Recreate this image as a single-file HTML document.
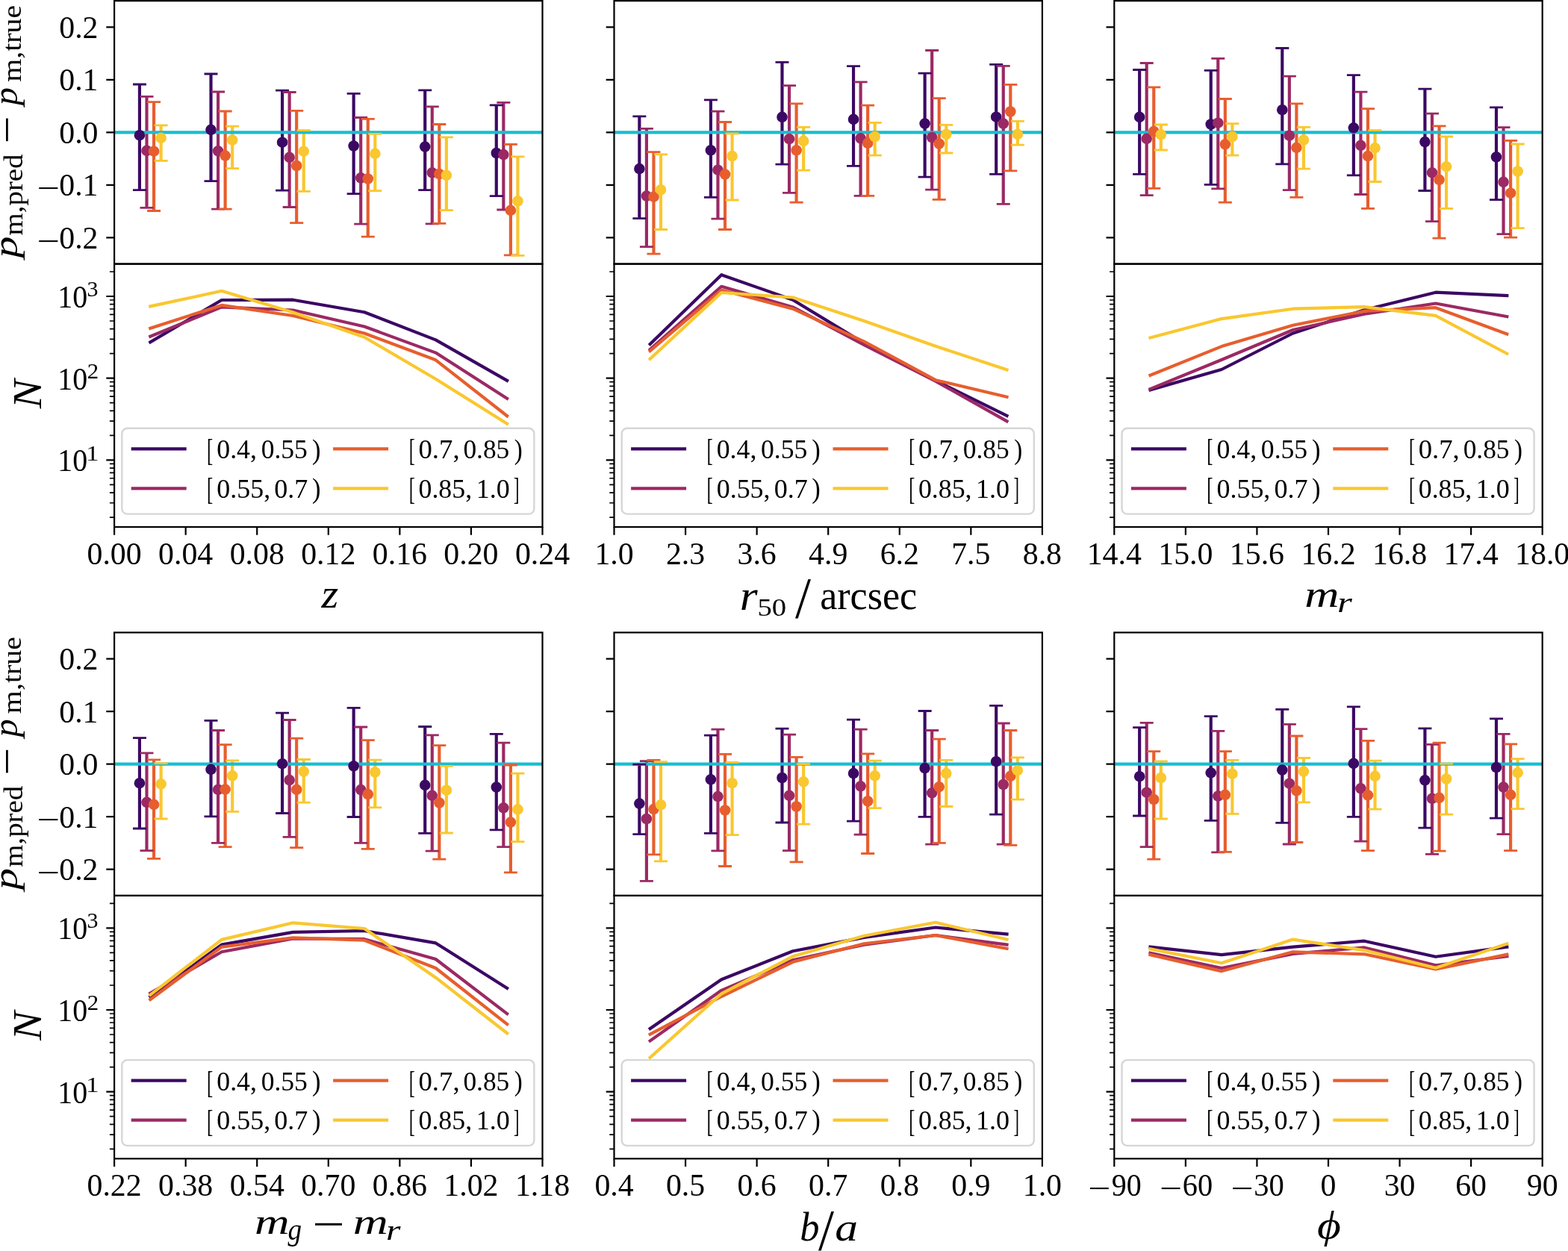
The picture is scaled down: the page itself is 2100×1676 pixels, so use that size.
<!DOCTYPE html><html><head><meta charset="utf-8"><title>figure</title><style>html,body{margin:0;padding:0;background:#fff;}svg{display:block;}</style></head><body><svg width="2100" height="1676" viewBox="0 0 2100 1676">
<rect x="0" y="0" width="2100" height="1676" fill="#ffffff"/>
<g font-family="'Liberation Serif', 'DejaVu Serif', serif" fill="#000">
<g>
<clipPath id="cp00t"><rect x="153.10" y="1.10" width="573.40" height="352.50"/></clipPath>
<g clip-path="url(#cp00t)">
<path d="M186.95 113.00V254.60M282.51 99.00V242.60M378.08 121.20V255.10M473.65 125.30V259.60M569.21 120.90V254.60M664.78 140.90V262.60" stroke="#3b0964" stroke-width="4.17" fill="none"/>
<path d="M196.50 129.40V278.40M292.07 123.00V280.20M387.64 123.50V277.50M483.21 157.50V300.20M578.77 142.90V299.80M674.34 137.30V281.00" stroke="#9b2964" stroke-width="4.17" fill="none"/>
<path d="M206.06 136.60V282.50M301.63 149.00V280.20M397.20 148.40V298.60M492.76 159.30V317.20M588.33 166.50V299.30M683.89 193.30V341.90" stroke="#e75e2e" stroke-width="4.17" fill="none"/>
<path d="M215.62 167.90V215.40M311.19 169.20V225.60M406.75 174.70V256.30M502.32 179.40V255.60M597.88 183.90V281.60M693.45 209.80V342.30" stroke="#f9c72f" stroke-width="4.17" fill="none"/>
<path d="M153.10 177.30H726.50" stroke="#17becf" stroke-width="4.17" fill="none"/>
<path d="M177.95 113.00H195.95M177.95 254.60H195.95M273.51 99.00H291.51M273.51 242.60H291.51M369.08 121.20H387.08M369.08 255.10H387.08M464.65 125.30H482.65M464.65 259.60H482.65M560.21 120.90H578.21M560.21 254.60H578.21M655.78 140.90H673.78M655.78 262.60H673.78" stroke="#3b0964" stroke-width="2.78" fill="none"/>
<path d="M187.50 129.40H205.50M187.50 278.40H205.50M283.07 123.00H301.07M283.07 280.20H301.07M378.64 123.50H396.64M378.64 277.50H396.64M474.21 157.50H492.21M474.21 300.20H492.21M569.77 142.90H587.77M569.77 299.80H587.77M665.34 137.30H683.34M665.34 281.00H683.34" stroke="#9b2964" stroke-width="2.78" fill="none"/>
<path d="M197.06 136.60H215.06M197.06 282.50H215.06M292.63 149.00H310.63M292.63 280.20H310.63M388.20 148.40H406.20M388.20 298.60H406.20M483.76 159.30H501.76M483.76 317.20H501.76M579.33 166.50H597.33M579.33 299.30H597.33M674.89 193.30H692.89M674.89 341.90H692.89" stroke="#e75e2e" stroke-width="2.78" fill="none"/>
<path d="M206.62 167.90H224.62M206.62 215.40H224.62M302.19 169.20H320.19M302.19 225.60H320.19M397.75 174.70H415.75M397.75 256.30H415.75M493.32 179.40H511.32M493.32 255.60H511.32M588.88 183.90H606.88M588.88 281.60H606.88M684.45 209.80H702.45M684.45 342.30H702.45" stroke="#f9c72f" stroke-width="2.78" fill="none"/>
<circle cx="186.95" cy="181.20" r="7.3" fill="#3b0964"/>
<circle cx="282.51" cy="173.80" r="7.3" fill="#3b0964"/>
<circle cx="378.08" cy="190.70" r="7.3" fill="#3b0964"/>
<circle cx="473.65" cy="195.50" r="7.3" fill="#3b0964"/>
<circle cx="569.21" cy="196.60" r="7.3" fill="#3b0964"/>
<circle cx="664.78" cy="205.00" r="7.3" fill="#3b0964"/>
<circle cx="196.50" cy="201.90" r="7.3" fill="#9b2964"/>
<circle cx="292.07" cy="202.30" r="7.3" fill="#9b2964"/>
<circle cx="387.64" cy="210.90" r="7.3" fill="#9b2964"/>
<circle cx="483.21" cy="238.40" r="7.3" fill="#9b2964"/>
<circle cx="578.77" cy="231.30" r="7.3" fill="#9b2964"/>
<circle cx="674.34" cy="207.10" r="7.3" fill="#9b2964"/>
<circle cx="206.06" cy="202.70" r="7.3" fill="#e75e2e"/>
<circle cx="301.63" cy="208.60" r="7.3" fill="#e75e2e"/>
<circle cx="397.20" cy="222.00" r="7.3" fill="#e75e2e"/>
<circle cx="492.76" cy="239.50" r="7.3" fill="#e75e2e"/>
<circle cx="588.33" cy="233.10" r="7.3" fill="#e75e2e"/>
<circle cx="683.89" cy="281.90" r="7.3" fill="#e75e2e"/>
<circle cx="215.62" cy="184.80" r="7.3" fill="#f9c72f"/>
<circle cx="311.19" cy="187.60" r="7.3" fill="#f9c72f"/>
<circle cx="406.75" cy="202.70" r="7.3" fill="#f9c72f"/>
<circle cx="502.32" cy="205.90" r="7.3" fill="#f9c72f"/>
<circle cx="597.88" cy="234.90" r="7.3" fill="#f9c72f"/>
<circle cx="693.45" cy="269.40" r="7.3" fill="#f9c72f"/>
</g>
<path d="M142.30 36.30H153.10M142.30 106.80H153.10M142.30 177.30H153.10M142.30 247.80H153.10M142.30 318.30H153.10" stroke="#000" stroke-width="2.2" fill="none"/>
<rect x="153.10" y="1.10" width="573.40" height="352.50" fill="none" stroke="#000" stroke-width="2.2"/>
</g>
<g>
<clipPath id="cp01t"><rect x="822.50" y="1.10" width="573.40" height="352.50"/></clipPath>
<g clip-path="url(#cp01t)">
<path d="M856.35 155.80V292.70M951.91 133.90V264.40M1047.48 83.30V220.20M1143.05 88.60V222.30M1238.62 98.10V237.20M1334.18 86.30V233.30" stroke="#3b0964" stroke-width="4.17" fill="none"/>
<path d="M865.90 172.40V330.60M961.47 149.10V293.20M1057.04 114.60V258.30M1152.61 109.80V262.30M1248.17 67.50V254.20M1343.74 88.30V273.40" stroke="#9b2964" stroke-width="4.17" fill="none"/>
<path d="M875.46 203.70V340.10M971.03 163.50V307.50M1066.60 138.80V271.20M1162.16 141.10V262.30M1257.73 131.60V267.30M1353.30 113.30V228.80" stroke="#e75e2e" stroke-width="4.17" fill="none"/>
<path d="M885.02 206.80V307.50M980.59 179.00V268.00M1076.15 170.40V228.20M1171.72 164.30V208.20M1267.28 167.40V205.00M1362.85 162.40V194.20" stroke="#f9c72f" stroke-width="4.17" fill="none"/>
<path d="M822.50 177.30H1395.90" stroke="#17becf" stroke-width="4.17" fill="none"/>
<path d="M847.35 155.80H865.35M847.35 292.70H865.35M942.91 133.90H960.91M942.91 264.40H960.91M1038.48 83.30H1056.48M1038.48 220.20H1056.48M1134.05 88.60H1152.05M1134.05 222.30H1152.05M1229.62 98.10H1247.62M1229.62 237.20H1247.62M1325.18 86.30H1343.18M1325.18 233.30H1343.18" stroke="#3b0964" stroke-width="2.78" fill="none"/>
<path d="M856.90 172.40H874.90M856.90 330.60H874.90M952.47 149.10H970.47M952.47 293.20H970.47M1048.04 114.60H1066.04M1048.04 258.30H1066.04M1143.61 109.80H1161.61M1143.61 262.30H1161.61M1239.17 67.50H1257.17M1239.17 254.20H1257.17M1334.74 88.30H1352.74M1334.74 273.40H1352.74" stroke="#9b2964" stroke-width="2.78" fill="none"/>
<path d="M866.46 203.70H884.46M866.46 340.10H884.46M962.03 163.50H980.03M962.03 307.50H980.03M1057.60 138.80H1075.60M1057.60 271.20H1075.60M1153.16 141.10H1171.16M1153.16 262.30H1171.16M1248.73 131.60H1266.73M1248.73 267.30H1266.73M1344.30 113.30H1362.30M1344.30 228.80H1362.30" stroke="#e75e2e" stroke-width="2.78" fill="none"/>
<path d="M876.02 206.80H894.02M876.02 307.50H894.02M971.59 179.00H989.59M971.59 268.00H989.59M1067.15 170.40H1085.15M1067.15 228.20H1085.15M1162.72 164.30H1180.72M1162.72 208.20H1180.72M1258.28 167.40H1276.28M1258.28 205.00H1276.28M1353.85 162.40H1371.85M1353.85 194.20H1371.85" stroke="#f9c72f" stroke-width="2.78" fill="none"/>
<circle cx="856.35" cy="226.10" r="7.3" fill="#3b0964"/>
<circle cx="951.91" cy="201.40" r="7.3" fill="#3b0964"/>
<circle cx="1047.48" cy="156.80" r="7.3" fill="#3b0964"/>
<circle cx="1143.05" cy="159.90" r="7.3" fill="#3b0964"/>
<circle cx="1238.62" cy="165.60" r="7.3" fill="#3b0964"/>
<circle cx="1334.18" cy="156.70" r="7.3" fill="#3b0964"/>
<circle cx="865.90" cy="262.60" r="7.3" fill="#9b2964"/>
<circle cx="961.47" cy="227.70" r="7.3" fill="#9b2964"/>
<circle cx="1057.04" cy="186.20" r="7.3" fill="#9b2964"/>
<circle cx="1152.61" cy="185.30" r="7.3" fill="#9b2964"/>
<circle cx="1248.17" cy="184.00" r="7.3" fill="#9b2964"/>
<circle cx="1343.74" cy="165.60" r="7.3" fill="#9b2964"/>
<circle cx="875.46" cy="263.70" r="7.3" fill="#e75e2e"/>
<circle cx="971.03" cy="233.60" r="7.3" fill="#e75e2e"/>
<circle cx="1066.60" cy="201.40" r="7.3" fill="#e75e2e"/>
<circle cx="1162.16" cy="191.90" r="7.3" fill="#e75e2e"/>
<circle cx="1257.73" cy="192.50" r="7.3" fill="#e75e2e"/>
<circle cx="1353.30" cy="149.50" r="7.3" fill="#e75e2e"/>
<circle cx="885.02" cy="254.20" r="7.3" fill="#f9c72f"/>
<circle cx="980.59" cy="209.10" r="7.3" fill="#f9c72f"/>
<circle cx="1076.15" cy="188.90" r="7.3" fill="#f9c72f"/>
<circle cx="1171.72" cy="183.00" r="7.3" fill="#f9c72f"/>
<circle cx="1267.28" cy="179.90" r="7.3" fill="#f9c72f"/>
<circle cx="1362.85" cy="179.90" r="7.3" fill="#f9c72f"/>
</g>
<path d="M811.70 36.30H822.50M811.70 106.80H822.50M811.70 177.30H822.50M811.70 247.80H822.50M811.70 318.30H822.50" stroke="#000" stroke-width="2.2" fill="none"/>
<rect x="822.50" y="1.10" width="573.40" height="352.50" fill="none" stroke="#000" stroke-width="2.2"/>
</g>
<g>
<clipPath id="cp02t"><rect x="1492.30" y="1.10" width="573.40" height="352.50"/></clipPath>
<g clip-path="url(#cp02t)">
<path d="M1526.15 93.50V233.30M1621.72 94.40V247.40M1717.28 64.50V219.80M1812.85 100.60V234.90M1908.41 119.10V255.50M2003.98 143.80V267.60" stroke="#3b0964" stroke-width="4.17" fill="none"/>
<path d="M1535.70 84.50V261.70M1631.27 78.30V252.80M1726.84 102.10V254.60M1822.41 123.20V260.50M1917.97 152.20V296.60M2013.54 170.60V313.60" stroke="#9b2964" stroke-width="4.17" fill="none"/>
<path d="M1545.26 116.90V252.40M1640.83 132.50V271.20M1736.39 138.80V264.40M1831.96 145.60V279.30M1927.53 168.80V319.20M2023.10 188.30V318.10" stroke="#e75e2e" stroke-width="4.17" fill="none"/>
<path d="M1554.82 167.00V201.00M1650.38 165.60V208.20M1745.95 170.40V226.10M1841.52 174.60V243.50M1937.09 183.00V279.30M2032.65 193.00V305.60" stroke="#f9c72f" stroke-width="4.17" fill="none"/>
<path d="M1492.30 177.30H2065.70" stroke="#17becf" stroke-width="4.17" fill="none"/>
<path d="M1517.15 93.50H1535.15M1517.15 233.30H1535.15M1612.72 94.40H1630.72M1612.72 247.40H1630.72M1708.28 64.50H1726.28M1708.28 219.80H1726.28M1803.85 100.60H1821.85M1803.85 234.90H1821.85M1899.41 119.10H1917.41M1899.41 255.50H1917.41M1994.98 143.80H2012.98M1994.98 267.60H2012.98" stroke="#3b0964" stroke-width="2.78" fill="none"/>
<path d="M1526.70 84.50H1544.70M1526.70 261.70H1544.70M1622.27 78.30H1640.27M1622.27 252.80H1640.27M1717.84 102.10H1735.84M1717.84 254.60H1735.84M1813.41 123.20H1831.41M1813.41 260.50H1831.41M1908.97 152.20H1926.97M1908.97 296.60H1926.97M2004.54 170.60H2022.54M2004.54 313.60H2022.54" stroke="#9b2964" stroke-width="2.78" fill="none"/>
<path d="M1536.26 116.90H1554.26M1536.26 252.40H1554.26M1631.83 132.50H1649.83M1631.83 271.20H1649.83M1727.39 138.80H1745.39M1727.39 264.40H1745.39M1822.96 145.60H1840.96M1822.96 279.30H1840.96M1918.53 168.80H1936.53M1918.53 319.20H1936.53M2014.10 188.30H2032.10M2014.10 318.10H2032.10" stroke="#e75e2e" stroke-width="2.78" fill="none"/>
<path d="M1545.82 167.00H1563.82M1545.82 201.00H1563.82M1641.38 165.60H1659.38M1641.38 208.20H1659.38M1736.95 170.40H1754.95M1736.95 226.10H1754.95M1832.52 174.60H1850.52M1832.52 243.50H1850.52M1928.09 183.00H1946.09M1928.09 279.30H1946.09M2023.65 193.00H2041.65M2023.65 305.60H2041.65" stroke="#f9c72f" stroke-width="2.78" fill="none"/>
<circle cx="1526.15" cy="156.80" r="7.3" fill="#3b0964"/>
<circle cx="1621.72" cy="166.50" r="7.3" fill="#3b0964"/>
<circle cx="1717.28" cy="147.20" r="7.3" fill="#3b0964"/>
<circle cx="1812.85" cy="171.30" r="7.3" fill="#3b0964"/>
<circle cx="1908.41" cy="190.10" r="7.3" fill="#3b0964"/>
<circle cx="2003.98" cy="210.30" r="7.3" fill="#3b0964"/>
<circle cx="1535.70" cy="185.80" r="7.3" fill="#9b2964"/>
<circle cx="1631.27" cy="164.70" r="7.3" fill="#9b2964"/>
<circle cx="1726.84" cy="181.70" r="7.3" fill="#9b2964"/>
<circle cx="1822.41" cy="194.80" r="7.3" fill="#9b2964"/>
<circle cx="1917.97" cy="231.30" r="7.3" fill="#9b2964"/>
<circle cx="2013.54" cy="243.80" r="7.3" fill="#9b2964"/>
<circle cx="1545.26" cy="176.00" r="7.3" fill="#e75e2e"/>
<circle cx="1640.83" cy="193.30" r="7.3" fill="#e75e2e"/>
<circle cx="1736.39" cy="197.80" r="7.3" fill="#e75e2e"/>
<circle cx="1831.96" cy="209.10" r="7.3" fill="#e75e2e"/>
<circle cx="1927.53" cy="240.80" r="7.3" fill="#e75e2e"/>
<circle cx="2023.10" cy="258.70" r="7.3" fill="#e75e2e"/>
<circle cx="1554.82" cy="180.30" r="7.3" fill="#f9c72f"/>
<circle cx="1650.38" cy="183.00" r="7.3" fill="#f9c72f"/>
<circle cx="1745.95" cy="187.60" r="7.3" fill="#f9c72f"/>
<circle cx="1841.52" cy="198.20" r="7.3" fill="#f9c72f"/>
<circle cx="1937.09" cy="223.20" r="7.3" fill="#f9c72f"/>
<circle cx="2032.65" cy="229.50" r="7.3" fill="#f9c72f"/>
</g>
<path d="M1481.50 36.30H1492.30M1481.50 106.80H1492.30M1481.50 177.30H1492.30M1481.50 247.80H1492.30M1481.50 318.30H1492.30" stroke="#000" stroke-width="2.2" fill="none"/>
<rect x="1492.30" y="1.10" width="573.40" height="352.50" fill="none" stroke="#000" stroke-width="2.2"/>
</g>
<g>
<clipPath id="cp10t"><rect x="153.10" y="847.40" width="573.40" height="352.50"/></clipPath>
<g clip-path="url(#cp10t)">
<path d="M186.95 988.70V1110.00M282.51 965.40V1093.90M378.08 955.20V1089.50M473.65 948.40V1094.50M569.21 973.50V1116.30M664.78 983.30V1111.80" stroke="#3b0964" stroke-width="4.17" fill="none"/>
<path d="M196.50 1008.90V1139.60M292.07 978.50V1129.40M387.64 964.50V1121.30M483.21 974.00V1129.40M578.77 984.80V1140.10M674.34 995.10V1134.70" stroke="#9b2964" stroke-width="4.17" fill="none"/>
<path d="M206.06 1017.90V1150.30M301.63 997.60V1134.60M397.20 989.20V1135.60M492.76 991.60V1137.40M588.33 998.70V1151.20M683.89 1025.00V1168.80" stroke="#e75e2e" stroke-width="4.17" fill="none"/>
<path d="M215.62 1022.70V1097.00M311.19 1018.80V1087.30M406.75 1017.50V1075.10M502.32 1018.20V1081.80M597.88 1026.30V1116.00M693.45 1036.10V1127.60" stroke="#f9c72f" stroke-width="4.17" fill="none"/>
<path d="M153.10 1023.60H726.50" stroke="#17becf" stroke-width="4.17" fill="none"/>
<path d="M177.95 988.70H195.95M177.95 1110.00H195.95M273.51 965.40H291.51M273.51 1093.90H291.51M369.08 955.20H387.08M369.08 1089.50H387.08M464.65 948.40H482.65M464.65 1094.50H482.65M560.21 973.50H578.21M560.21 1116.30H578.21M655.78 983.30H673.78M655.78 1111.80H673.78" stroke="#3b0964" stroke-width="2.78" fill="none"/>
<path d="M187.50 1008.90H205.50M187.50 1139.60H205.50M283.07 978.50H301.07M283.07 1129.40H301.07M378.64 964.50H396.64M378.64 1121.30H396.64M474.21 974.00H492.21M474.21 1129.40H492.21M569.77 984.80H587.77M569.77 1140.10H587.77M665.34 995.10H683.34M665.34 1134.70H683.34" stroke="#9b2964" stroke-width="2.78" fill="none"/>
<path d="M197.06 1017.90H215.06M197.06 1150.30H215.06M292.63 997.60H310.63M292.63 1134.60H310.63M388.20 989.20H406.20M388.20 1135.60H406.20M483.76 991.60H501.76M483.76 1137.40H501.76M579.33 998.70H597.33M579.33 1151.20H597.33M674.89 1025.00H692.89M674.89 1168.80H692.89" stroke="#e75e2e" stroke-width="2.78" fill="none"/>
<path d="M206.62 1022.70H224.62M206.62 1097.00H224.62M302.19 1018.80H320.19M302.19 1087.30H320.19M397.75 1017.50H415.75M397.75 1075.10H415.75M493.32 1018.20H511.32M493.32 1081.80H511.32M588.88 1026.30H606.88M588.88 1116.00H606.88M684.45 1036.10H702.45M684.45 1127.60H702.45" stroke="#f9c72f" stroke-width="2.78" fill="none"/>
<circle cx="186.95" cy="1049.20" r="7.3" fill="#3b0964"/>
<circle cx="282.51" cy="1030.80" r="7.3" fill="#3b0964"/>
<circle cx="378.08" cy="1023.20" r="7.3" fill="#3b0964"/>
<circle cx="473.65" cy="1026.30" r="7.3" fill="#3b0964"/>
<circle cx="569.21" cy="1051.90" r="7.3" fill="#3b0964"/>
<circle cx="664.78" cy="1054.60" r="7.3" fill="#3b0964"/>
<circle cx="196.50" cy="1074.80" r="7.3" fill="#9b2964"/>
<circle cx="292.07" cy="1057.80" r="7.3" fill="#9b2964"/>
<circle cx="387.64" cy="1045.10" r="7.3" fill="#9b2964"/>
<circle cx="483.21" cy="1058.10" r="7.3" fill="#9b2964"/>
<circle cx="578.77" cy="1065.80" r="7.3" fill="#9b2964"/>
<circle cx="674.34" cy="1082.30" r="7.3" fill="#9b2964"/>
<circle cx="206.06" cy="1077.80" r="7.3" fill="#e75e2e"/>
<circle cx="301.63" cy="1057.60" r="7.3" fill="#e75e2e"/>
<circle cx="397.20" cy="1057.80" r="7.3" fill="#e75e2e"/>
<circle cx="492.76" cy="1064.00" r="7.3" fill="#e75e2e"/>
<circle cx="588.33" cy="1075.50" r="7.3" fill="#e75e2e"/>
<circle cx="683.89" cy="1101.60" r="7.3" fill="#e75e2e"/>
<circle cx="215.62" cy="1050.40" r="7.3" fill="#f9c72f"/>
<circle cx="311.19" cy="1039.30" r="7.3" fill="#f9c72f"/>
<circle cx="406.75" cy="1033.60" r="7.3" fill="#f9c72f"/>
<circle cx="502.32" cy="1034.50" r="7.3" fill="#f9c72f"/>
<circle cx="597.88" cy="1058.70" r="7.3" fill="#f9c72f"/>
<circle cx="693.45" cy="1084.40" r="7.3" fill="#f9c72f"/>
</g>
<path d="M142.30 882.60H153.10M142.30 953.10H153.10M142.30 1023.60H153.10M142.30 1094.10H153.10M142.30 1164.60H153.10" stroke="#000" stroke-width="2.2" fill="none"/>
<rect x="153.10" y="847.40" width="573.40" height="352.50" fill="none" stroke="#000" stroke-width="2.2"/>
</g>
<g>
<clipPath id="cp11t"><rect x="822.50" y="847.40" width="573.40" height="352.50"/></clipPath>
<g clip-path="url(#cp11t)">
<path d="M856.35 1024.10V1117.70M951.91 985.10V1116.30M1047.48 976.20V1102.00M1143.05 964.20V1100.20M1238.62 952.50V1094.30M1334.18 945.40V1091.20" stroke="#3b0964" stroke-width="4.17" fill="none"/>
<path d="M865.90 1019.70V1180.40M961.47 977.10V1139.90M1057.04 984.20V1139.60M1152.61 977.20V1118.10M1248.17 978.50V1131.20M1343.74 969.00V1131.20" stroke="#9b2964" stroke-width="4.17" fill="none"/>
<path d="M875.46 1018.40V1144.90M971.03 1010.30V1160.50M1066.60 1014.30V1154.80M1162.16 1009.80V1143.50M1257.73 990.10V1129.40M1353.30 978.50V1132.40" stroke="#e75e2e" stroke-width="4.17" fill="none"/>
<path d="M885.02 1020.60V1153.90M980.59 1021.40V1118.60M1076.15 1023.60V1104.10M1171.72 1019.10V1082.70M1267.28 1018.40V1080.50M1362.85 1014.80V1071.20" stroke="#f9c72f" stroke-width="4.17" fill="none"/>
<path d="M822.50 1023.60H1395.90" stroke="#17becf" stroke-width="4.17" fill="none"/>
<path d="M847.35 1024.10H865.35M847.35 1117.70H865.35M942.91 985.10H960.91M942.91 1116.30H960.91M1038.48 976.20H1056.48M1038.48 1102.00H1056.48M1134.05 964.20H1152.05M1134.05 1100.20H1152.05M1229.62 952.50H1247.62M1229.62 1094.30H1247.62M1325.18 945.40H1343.18M1325.18 1091.20H1343.18" stroke="#3b0964" stroke-width="2.78" fill="none"/>
<path d="M856.90 1019.70H874.90M856.90 1180.40H874.90M952.47 977.10H970.47M952.47 1139.90H970.47M1048.04 984.20H1066.04M1048.04 1139.60H1066.04M1143.61 977.20H1161.61M1143.61 1118.10H1161.61M1239.17 978.50H1257.17M1239.17 1131.20H1257.17M1334.74 969.00H1352.74M1334.74 1131.20H1352.74" stroke="#9b2964" stroke-width="2.78" fill="none"/>
<path d="M866.46 1018.40H884.46M866.46 1144.90H884.46M962.03 1010.30H980.03M962.03 1160.50H980.03M1057.60 1014.30H1075.60M1057.60 1154.80H1075.60M1153.16 1009.80H1171.16M1153.16 1143.50H1171.16M1248.73 990.10H1266.73M1248.73 1129.40H1266.73M1344.30 978.50H1362.30M1344.30 1132.40H1362.30" stroke="#e75e2e" stroke-width="2.78" fill="none"/>
<path d="M876.02 1020.60H894.02M876.02 1153.90H894.02M971.59 1021.40H989.59M971.59 1118.60H989.59M1067.15 1023.60H1085.15M1067.15 1104.10H1085.15M1162.72 1019.10H1180.72M1162.72 1082.70H1180.72M1258.28 1018.40H1276.28M1258.28 1080.50H1276.28M1353.85 1014.80H1371.85M1353.85 1071.20H1371.85" stroke="#f9c72f" stroke-width="2.78" fill="none"/>
<circle cx="856.35" cy="1076.60" r="7.3" fill="#3b0964"/>
<circle cx="951.91" cy="1044.40" r="7.3" fill="#3b0964"/>
<circle cx="1047.48" cy="1042.00" r="7.3" fill="#3b0964"/>
<circle cx="1143.05" cy="1036.10" r="7.3" fill="#3b0964"/>
<circle cx="1238.62" cy="1029.10" r="7.3" fill="#3b0964"/>
<circle cx="1334.18" cy="1020.20" r="7.3" fill="#3b0964"/>
<circle cx="865.90" cy="1097.00" r="7.3" fill="#9b2964"/>
<circle cx="961.47" cy="1067.10" r="7.3" fill="#9b2964"/>
<circle cx="1057.04" cy="1065.80" r="7.3" fill="#9b2964"/>
<circle cx="1152.61" cy="1053.30" r="7.3" fill="#9b2964"/>
<circle cx="1248.17" cy="1062.30" r="7.3" fill="#9b2964"/>
<circle cx="1343.74" cy="1051.00" r="7.3" fill="#9b2964"/>
<circle cx="875.46" cy="1084.10" r="7.3" fill="#e75e2e"/>
<circle cx="971.03" cy="1085.50" r="7.3" fill="#e75e2e"/>
<circle cx="1066.60" cy="1080.50" r="7.3" fill="#e75e2e"/>
<circle cx="1162.16" cy="1073.40" r="7.3" fill="#e75e2e"/>
<circle cx="1257.73" cy="1054.20" r="7.3" fill="#e75e2e"/>
<circle cx="1353.30" cy="1039.90" r="7.3" fill="#e75e2e"/>
<circle cx="885.02" cy="1078.20" r="7.3" fill="#f9c72f"/>
<circle cx="980.59" cy="1049.20" r="7.3" fill="#f9c72f"/>
<circle cx="1076.15" cy="1047.40" r="7.3" fill="#f9c72f"/>
<circle cx="1171.72" cy="1039.30" r="7.3" fill="#f9c72f"/>
<circle cx="1267.28" cy="1036.10" r="7.3" fill="#f9c72f"/>
<circle cx="1362.85" cy="1032.20" r="7.3" fill="#f9c72f"/>
</g>
<path d="M811.70 882.60H822.50M811.70 953.10H822.50M811.70 1023.60H822.50M811.70 1094.10H822.50M811.70 1164.60H822.50" stroke="#000" stroke-width="2.2" fill="none"/>
<rect x="822.50" y="847.40" width="573.40" height="352.50" fill="none" stroke="#000" stroke-width="2.2"/>
</g>
<g>
<clipPath id="cp12t"><rect x="1492.30" y="847.40" width="573.40" height="352.50"/></clipPath>
<g clip-path="url(#cp12t)">
<path d="M1526.15 974.60V1093.00M1621.72 959.70V1099.30M1717.28 950.40V1102.30M1812.85 946.80V1094.30M1908.41 975.80V1109.10M2003.98 962.90V1096.10" stroke="#3b0964" stroke-width="4.17" fill="none"/>
<path d="M1535.70 968.30V1134.70M1631.27 979.40V1141.90M1726.84 970.40V1131.00M1822.41 976.70V1127.10M1917.97 997.30V1144.40M2013.54 983.30V1117.60" stroke="#9b2964" stroke-width="4.17" fill="none"/>
<path d="M1545.26 1006.60V1151.20M1640.83 1006.60V1141.40M1736.39 986.00V1128.50M1831.96 992.30V1139.60M1927.53 995.10V1140.10M2023.10 996.90V1139.60" stroke="#e75e2e" stroke-width="4.17" fill="none"/>
<path d="M1554.82 1020.00V1097.00M1650.38 1018.40V1090.40M1745.95 1015.50V1074.80M1841.52 1019.10V1084.10M1937.09 1023.20V1091.20M2032.65 1016.60V1083.60" stroke="#f9c72f" stroke-width="4.17" fill="none"/>
<path d="M1492.30 1023.60H2065.70" stroke="#17becf" stroke-width="4.17" fill="none"/>
<path d="M1517.15 974.60H1535.15M1517.15 1093.00H1535.15M1612.72 959.70H1630.72M1612.72 1099.30H1630.72M1708.28 950.40H1726.28M1708.28 1102.30H1726.28M1803.85 946.80H1821.85M1803.85 1094.30H1821.85M1899.41 975.80H1917.41M1899.41 1109.10H1917.41M1994.98 962.90H2012.98M1994.98 1096.10H2012.98" stroke="#3b0964" stroke-width="2.78" fill="none"/>
<path d="M1526.70 968.30H1544.70M1526.70 1134.70H1544.70M1622.27 979.40H1640.27M1622.27 1141.90H1640.27M1717.84 970.40H1735.84M1717.84 1131.00H1735.84M1813.41 976.70H1831.41M1813.41 1127.10H1831.41M1908.97 997.30H1926.97M1908.97 1144.40H1926.97M2004.54 983.30H2022.54M2004.54 1117.60H2022.54" stroke="#9b2964" stroke-width="2.78" fill="none"/>
<path d="M1536.26 1006.60H1554.26M1536.26 1151.20H1554.26M1631.83 1006.60H1649.83M1631.83 1141.40H1649.83M1727.39 986.00H1745.39M1727.39 1128.50H1745.39M1822.96 992.30H1840.96M1822.96 1139.60H1840.96M1918.53 995.10H1936.53M1918.53 1140.10H1936.53M2014.10 996.90H2032.10M2014.10 1139.60H2032.10" stroke="#e75e2e" stroke-width="2.78" fill="none"/>
<path d="M1545.82 1020.00H1563.82M1545.82 1097.00H1563.82M1641.38 1018.40H1659.38M1641.38 1090.40H1659.38M1736.95 1015.50H1754.95M1736.95 1074.80H1754.95M1832.52 1019.10H1850.52M1832.52 1084.10H1850.52M1928.09 1023.20H1946.09M1928.09 1091.20H1946.09M2023.65 1016.60H2041.65M2023.65 1083.60H2041.65" stroke="#f9c72f" stroke-width="2.78" fill="none"/>
<circle cx="1526.15" cy="1040.20" r="7.3" fill="#3b0964"/>
<circle cx="1621.72" cy="1035.40" r="7.3" fill="#3b0964"/>
<circle cx="1717.28" cy="1031.60" r="7.3" fill="#3b0964"/>
<circle cx="1812.85" cy="1022.90" r="7.3" fill="#3b0964"/>
<circle cx="1908.41" cy="1045.30" r="7.3" fill="#3b0964"/>
<circle cx="2003.98" cy="1028.10" r="7.3" fill="#3b0964"/>
<circle cx="1535.70" cy="1061.70" r="7.3" fill="#9b2964"/>
<circle cx="1631.27" cy="1066.60" r="7.3" fill="#9b2964"/>
<circle cx="1726.84" cy="1049.70" r="7.3" fill="#9b2964"/>
<circle cx="1822.41" cy="1056.30" r="7.3" fill="#9b2964"/>
<circle cx="1917.97" cy="1069.80" r="7.3" fill="#9b2964"/>
<circle cx="2013.54" cy="1054.60" r="7.3" fill="#9b2964"/>
<circle cx="1545.26" cy="1071.00" r="7.3" fill="#e75e2e"/>
<circle cx="1640.83" cy="1064.80" r="7.3" fill="#e75e2e"/>
<circle cx="1736.39" cy="1059.40" r="7.3" fill="#e75e2e"/>
<circle cx="1831.96" cy="1065.30" r="7.3" fill="#e75e2e"/>
<circle cx="1927.53" cy="1068.90" r="7.3" fill="#e75e2e"/>
<circle cx="2023.10" cy="1064.80" r="7.3" fill="#e75e2e"/>
<circle cx="1554.82" cy="1042.00" r="7.3" fill="#f9c72f"/>
<circle cx="1650.38" cy="1036.70" r="7.3" fill="#f9c72f"/>
<circle cx="1745.95" cy="1033.60" r="7.3" fill="#f9c72f"/>
<circle cx="1841.52" cy="1039.90" r="7.3" fill="#f9c72f"/>
<circle cx="1937.09" cy="1043.50" r="7.3" fill="#f9c72f"/>
<circle cx="2032.65" cy="1035.20" r="7.3" fill="#f9c72f"/>
</g>
<path d="M1481.50 882.60H1492.30M1481.50 953.10H1492.30M1481.50 1023.60H1492.30M1481.50 1094.10H1492.30M1481.50 1164.60H1492.30" stroke="#000" stroke-width="2.2" fill="none"/>
<rect x="1492.30" y="847.40" width="573.40" height="352.50" fill="none" stroke="#000" stroke-width="2.2"/>
</g>
<clipPath id="cp00b"><rect x="153.10" y="353.60" width="573.40" height="352.40"/></clipPath>
<g clip-path="url(#cp00b)">
<polyline points="201.28,458.40 296.85,402.00 392.42,401.70 487.98,418.20 583.55,455.40 679.12,509.90" stroke="#3b0964" stroke-width="4.17" fill="none" stroke-linecap="square" stroke-linejoin="round"/>
<polyline points="201.28,450.70 296.85,411.40 392.42,415.50 487.98,437.50 583.55,472.60 679.12,533.80" stroke="#9b2964" stroke-width="4.17" fill="none" stroke-linecap="square" stroke-linejoin="round"/>
<polyline points="201.28,439.80 296.85,408.90 392.42,423.00 487.98,446.50 583.55,482.30 679.12,557.20" stroke="#e75e2e" stroke-width="4.17" fill="none" stroke-linecap="square" stroke-linejoin="round"/>
<polyline points="201.28,410.40 296.85,389.80 392.42,418.50 487.98,451.70 583.55,507.70 679.12,567.60" stroke="#f9c72f" stroke-width="4.17" fill="none" stroke-linecap="square" stroke-linejoin="round"/>
</g>
<rect x="163.30" y="573.80" width="552.10" height="114.80" rx="7.2" ry="7.2" fill="#ffffff" fill-opacity="0.8" stroke="#cccccc" stroke-opacity="0.8" stroke-width="2.4"/>
<path d="M175.70 601.40H249.70" stroke="#3b0964" stroke-width="4.17" fill="none"/>
<text x="277.07" y="617.23" font-size="42.03" font-style="normal" textLength="8.21" lengthAdjust="spacingAndGlyphs">[</text>
<text x="290.34" y="614.40" font-size="36.00" font-style="normal" textLength="53.57" lengthAdjust="spacingAndGlyphs">0.4,</text>
<text x="349.65" y="614.40" font-size="36.00" font-style="normal" textLength="62.24" lengthAdjust="spacingAndGlyphs">0.55</text>
<text x="417.90" y="614.69" font-size="38.37" font-style="normal" textLength="11.49" lengthAdjust="spacingAndGlyphs">)</text>
<path d="M175.70 654.30H249.70" stroke="#9b2964" stroke-width="4.17" fill="none"/>
<text x="277.07" y="669.23" font-size="42.03" font-style="normal" textLength="8.21" lengthAdjust="spacingAndGlyphs">[</text>
<text x="290.34" y="666.50" font-size="36.00" font-style="normal" textLength="71.79" lengthAdjust="spacingAndGlyphs">0.55,</text>
<text x="367.23" y="666.50" font-size="36.00" font-style="normal" textLength="45.08" lengthAdjust="spacingAndGlyphs">0.7</text>
<text x="417.90" y="666.69" font-size="38.37" font-style="normal" textLength="11.49" lengthAdjust="spacingAndGlyphs">)</text>
<path d="M446.10 601.40H520.10" stroke="#e75e2e" stroke-width="4.17" fill="none"/>
<text x="547.81" y="617.23" font-size="42.03" font-style="normal" textLength="8.06" lengthAdjust="spacingAndGlyphs">[</text>
<text x="560.50" y="614.40" font-size="36.00" font-style="normal" textLength="55.07" lengthAdjust="spacingAndGlyphs">0.7,</text>
<text x="620.46" y="614.40" font-size="36.00" font-style="normal" textLength="61.82" lengthAdjust="spacingAndGlyphs">0.85</text>
<text x="688.75" y="614.69" font-size="38.37" font-style="normal" textLength="10.97" lengthAdjust="spacingAndGlyphs">)</text>
<path d="M446.10 654.30H520.10" stroke="#f9c72f" stroke-width="4.17" fill="none"/>
<text x="547.81" y="669.23" font-size="42.03" font-style="normal" textLength="8.06" lengthAdjust="spacingAndGlyphs">[</text>
<text x="560.54" y="666.50" font-size="36.00" font-style="normal" textLength="71.58" lengthAdjust="spacingAndGlyphs">0.85,</text>
<text x="637.67" y="666.50" font-size="36.00" font-style="normal" textLength="45.00" lengthAdjust="spacingAndGlyphs">1.0</text>
<text x="687.99" y="669.23" font-size="42.03" font-style="normal" textLength="7.47" lengthAdjust="spacingAndGlyphs">]</text>
<path d="M142.30 616.40H153.10M142.30 506.70H153.10M142.30 397.00H153.10" stroke="#000" stroke-width="2.2" fill="none"/>
<path d="M146.90 693.08H153.10M146.90 673.76H153.10M146.90 660.05H153.10M146.90 649.42H153.10M146.90 640.74H153.10M146.90 633.39H153.10M146.90 627.03H153.10M146.90 621.42H153.10M146.90 583.38H153.10M146.90 564.06H153.10M146.90 550.35H153.10M146.90 539.72H153.10M146.90 531.04H153.10M146.90 523.69H153.10M146.90 517.33H153.10M146.90 511.72H153.10M146.90 473.68H153.10M146.90 454.36H153.10M146.90 440.65H153.10M146.90 430.02H153.10M146.90 421.34H153.10M146.90 413.99H153.10M146.90 407.63H153.10M146.90 402.02H153.10M146.90 363.98H153.10" stroke="#000" stroke-width="1.7" fill="none"/>
<path d="M153.10 706.00V716.80M248.67 706.00V716.80M344.23 706.00V716.80M439.80 706.00V716.80M535.37 706.00V716.80M630.93 706.00V716.80M726.50 706.00V716.80" stroke="#000" stroke-width="2.2" fill="none"/>
<rect x="153.10" y="353.60" width="573.40" height="352.40" fill="none" stroke="#000" stroke-width="2.2"/>
<clipPath id="cp01b"><rect x="822.50" y="353.60" width="573.40" height="352.40"/></clipPath>
<g clip-path="url(#cp01b)">
<polyline points="870.68,461.10 966.25,368.20 1061.82,401.70 1157.38,459.90 1252.95,509.90 1348.52,556.90" stroke="#3b0964" stroke-width="4.17" fill="none" stroke-linecap="square" stroke-linejoin="round"/>
<polyline points="870.68,468.10 966.25,383.80 1061.82,411.40 1157.38,462.20 1252.95,510.60 1348.52,564.40" stroke="#9b2964" stroke-width="4.17" fill="none" stroke-linecap="square" stroke-linejoin="round"/>
<polyline points="870.68,470.10 966.25,388.60 1061.82,413.70 1157.38,457.70 1252.95,509.20 1348.52,531.80" stroke="#e75e2e" stroke-width="4.17" fill="none" stroke-linecap="square" stroke-linejoin="round"/>
<polyline points="870.68,480.80 966.25,392.00 1061.82,398.50 1157.38,430.10 1252.95,463.70 1348.52,495.40" stroke="#f9c72f" stroke-width="4.17" fill="none" stroke-linecap="square" stroke-linejoin="round"/>
</g>
<rect x="832.70" y="573.80" width="552.10" height="114.80" rx="7.2" ry="7.2" fill="#ffffff" fill-opacity="0.8" stroke="#cccccc" stroke-opacity="0.8" stroke-width="2.4"/>
<path d="M845.10 601.40H919.10" stroke="#3b0964" stroke-width="4.17" fill="none"/>
<text x="946.47" y="617.23" font-size="42.03" font-style="normal" textLength="8.21" lengthAdjust="spacingAndGlyphs">[</text>
<text x="959.74" y="614.40" font-size="36.00" font-style="normal" textLength="53.57" lengthAdjust="spacingAndGlyphs">0.4,</text>
<text x="1019.05" y="614.40" font-size="36.00" font-style="normal" textLength="62.24" lengthAdjust="spacingAndGlyphs">0.55</text>
<text x="1087.30" y="614.69" font-size="38.37" font-style="normal" textLength="11.49" lengthAdjust="spacingAndGlyphs">)</text>
<path d="M845.10 654.30H919.10" stroke="#9b2964" stroke-width="4.17" fill="none"/>
<text x="946.47" y="669.23" font-size="42.03" font-style="normal" textLength="8.21" lengthAdjust="spacingAndGlyphs">[</text>
<text x="959.74" y="666.50" font-size="36.00" font-style="normal" textLength="71.79" lengthAdjust="spacingAndGlyphs">0.55,</text>
<text x="1036.63" y="666.50" font-size="36.00" font-style="normal" textLength="45.08" lengthAdjust="spacingAndGlyphs">0.7</text>
<text x="1087.30" y="666.69" font-size="38.37" font-style="normal" textLength="11.49" lengthAdjust="spacingAndGlyphs">)</text>
<path d="M1115.50 601.40H1189.50" stroke="#e75e2e" stroke-width="4.17" fill="none"/>
<text x="1217.21" y="617.23" font-size="42.03" font-style="normal" textLength="8.06" lengthAdjust="spacingAndGlyphs">[</text>
<text x="1229.90" y="614.40" font-size="36.00" font-style="normal" textLength="55.07" lengthAdjust="spacingAndGlyphs">0.7,</text>
<text x="1289.86" y="614.40" font-size="36.00" font-style="normal" textLength="61.82" lengthAdjust="spacingAndGlyphs">0.85</text>
<text x="1358.15" y="614.69" font-size="38.37" font-style="normal" textLength="10.97" lengthAdjust="spacingAndGlyphs">)</text>
<path d="M1115.50 654.30H1189.50" stroke="#f9c72f" stroke-width="4.17" fill="none"/>
<text x="1217.21" y="669.23" font-size="42.03" font-style="normal" textLength="8.06" lengthAdjust="spacingAndGlyphs">[</text>
<text x="1229.94" y="666.50" font-size="36.00" font-style="normal" textLength="71.58" lengthAdjust="spacingAndGlyphs">0.85,</text>
<text x="1307.07" y="666.50" font-size="36.00" font-style="normal" textLength="45.00" lengthAdjust="spacingAndGlyphs">1.0</text>
<text x="1357.39" y="669.23" font-size="42.03" font-style="normal" textLength="7.47" lengthAdjust="spacingAndGlyphs">]</text>
<path d="M811.70 616.40H822.50M811.70 506.70H822.50M811.70 397.00H822.50" stroke="#000" stroke-width="2.2" fill="none"/>
<path d="M816.30 693.08H822.50M816.30 673.76H822.50M816.30 660.05H822.50M816.30 649.42H822.50M816.30 640.74H822.50M816.30 633.39H822.50M816.30 627.03H822.50M816.30 621.42H822.50M816.30 583.38H822.50M816.30 564.06H822.50M816.30 550.35H822.50M816.30 539.72H822.50M816.30 531.04H822.50M816.30 523.69H822.50M816.30 517.33H822.50M816.30 511.72H822.50M816.30 473.68H822.50M816.30 454.36H822.50M816.30 440.65H822.50M816.30 430.02H822.50M816.30 421.34H822.50M816.30 413.99H822.50M816.30 407.63H822.50M816.30 402.02H822.50M816.30 363.98H822.50" stroke="#000" stroke-width="1.7" fill="none"/>
<path d="M822.50 706.00V716.80M918.07 706.00V716.80M1013.63 706.00V716.80M1109.20 706.00V716.80M1204.77 706.00V716.80M1300.33 706.00V716.80M1395.90 706.00V716.80" stroke="#000" stroke-width="2.2" fill="none"/>
<rect x="822.50" y="353.60" width="573.40" height="352.40" fill="none" stroke="#000" stroke-width="2.2"/>
<clipPath id="cp02b"><rect x="1492.30" y="353.60" width="573.40" height="352.40"/></clipPath>
<g clip-path="url(#cp02b)">
<polyline points="1540.48,522.30 1636.05,495.00 1731.62,446.50 1827.18,415.20 1922.75,391.70 2018.32,396.10" stroke="#3b0964" stroke-width="4.17" fill="none" stroke-linecap="square" stroke-linejoin="round"/>
<polyline points="1540.48,521.10 1636.05,482.00 1731.62,442.00 1827.18,420.80 1922.75,406.50 2018.32,424.10" stroke="#9b2964" stroke-width="4.17" fill="none" stroke-linecap="square" stroke-linejoin="round"/>
<polyline points="1540.48,502.70 1636.05,464.10 1731.62,435.80 1827.18,416.70 1922.75,412.20 2018.32,447.50" stroke="#e75e2e" stroke-width="4.17" fill="none" stroke-linecap="square" stroke-linejoin="round"/>
<polyline points="1540.48,452.50 1636.05,427.10 1731.62,413.70 1827.18,411.10 1922.75,422.90 2018.32,473.80" stroke="#f9c72f" stroke-width="4.17" fill="none" stroke-linecap="square" stroke-linejoin="round"/>
</g>
<rect x="1502.50" y="573.80" width="552.10" height="114.80" rx="7.2" ry="7.2" fill="#ffffff" fill-opacity="0.8" stroke="#cccccc" stroke-opacity="0.8" stroke-width="2.4"/>
<path d="M1514.90 601.40H1588.90" stroke="#3b0964" stroke-width="4.17" fill="none"/>
<text x="1616.27" y="617.23" font-size="42.03" font-style="normal" textLength="8.21" lengthAdjust="spacingAndGlyphs">[</text>
<text x="1629.54" y="614.40" font-size="36.00" font-style="normal" textLength="53.57" lengthAdjust="spacingAndGlyphs">0.4,</text>
<text x="1688.85" y="614.40" font-size="36.00" font-style="normal" textLength="62.24" lengthAdjust="spacingAndGlyphs">0.55</text>
<text x="1757.10" y="614.69" font-size="38.37" font-style="normal" textLength="11.49" lengthAdjust="spacingAndGlyphs">)</text>
<path d="M1514.90 654.30H1588.90" stroke="#9b2964" stroke-width="4.17" fill="none"/>
<text x="1616.27" y="669.23" font-size="42.03" font-style="normal" textLength="8.21" lengthAdjust="spacingAndGlyphs">[</text>
<text x="1629.54" y="666.50" font-size="36.00" font-style="normal" textLength="71.79" lengthAdjust="spacingAndGlyphs">0.55,</text>
<text x="1706.43" y="666.50" font-size="36.00" font-style="normal" textLength="45.08" lengthAdjust="spacingAndGlyphs">0.7</text>
<text x="1757.10" y="666.69" font-size="38.37" font-style="normal" textLength="11.49" lengthAdjust="spacingAndGlyphs">)</text>
<path d="M1785.30 601.40H1859.30" stroke="#e75e2e" stroke-width="4.17" fill="none"/>
<text x="1887.01" y="617.23" font-size="42.03" font-style="normal" textLength="8.06" lengthAdjust="spacingAndGlyphs">[</text>
<text x="1899.70" y="614.40" font-size="36.00" font-style="normal" textLength="55.07" lengthAdjust="spacingAndGlyphs">0.7,</text>
<text x="1959.66" y="614.40" font-size="36.00" font-style="normal" textLength="61.82" lengthAdjust="spacingAndGlyphs">0.85</text>
<text x="2027.95" y="614.69" font-size="38.37" font-style="normal" textLength="10.97" lengthAdjust="spacingAndGlyphs">)</text>
<path d="M1785.30 654.30H1859.30" stroke="#f9c72f" stroke-width="4.17" fill="none"/>
<text x="1887.01" y="669.23" font-size="42.03" font-style="normal" textLength="8.06" lengthAdjust="spacingAndGlyphs">[</text>
<text x="1899.74" y="666.50" font-size="36.00" font-style="normal" textLength="71.58" lengthAdjust="spacingAndGlyphs">0.85,</text>
<text x="1976.87" y="666.50" font-size="36.00" font-style="normal" textLength="45.00" lengthAdjust="spacingAndGlyphs">1.0</text>
<text x="2027.19" y="669.23" font-size="42.03" font-style="normal" textLength="7.47" lengthAdjust="spacingAndGlyphs">]</text>
<path d="M1481.50 616.40H1492.30M1481.50 506.70H1492.30M1481.50 397.00H1492.30" stroke="#000" stroke-width="2.2" fill="none"/>
<path d="M1486.10 693.08H1492.30M1486.10 673.76H1492.30M1486.10 660.05H1492.30M1486.10 649.42H1492.30M1486.10 640.74H1492.30M1486.10 633.39H1492.30M1486.10 627.03H1492.30M1486.10 621.42H1492.30M1486.10 583.38H1492.30M1486.10 564.06H1492.30M1486.10 550.35H1492.30M1486.10 539.72H1492.30M1486.10 531.04H1492.30M1486.10 523.69H1492.30M1486.10 517.33H1492.30M1486.10 511.72H1492.30M1486.10 473.68H1492.30M1486.10 454.36H1492.30M1486.10 440.65H1492.30M1486.10 430.02H1492.30M1486.10 421.34H1492.30M1486.10 413.99H1492.30M1486.10 407.63H1492.30M1486.10 402.02H1492.30M1486.10 363.98H1492.30" stroke="#000" stroke-width="1.7" fill="none"/>
<path d="M1492.30 706.00V716.80M1587.87 706.00V716.80M1683.43 706.00V716.80M1779.00 706.00V716.80M1874.57 706.00V716.80M1970.13 706.00V716.80M2065.70 706.00V716.80" stroke="#000" stroke-width="2.2" fill="none"/>
<rect x="1492.30" y="353.60" width="573.40" height="352.40" fill="none" stroke="#000" stroke-width="2.2"/>
<clipPath id="cp10b"><rect x="153.10" y="1199.90" width="573.40" height="352.40"/></clipPath>
<g clip-path="url(#cp10b)">
<polyline points="201.28,1335.00 296.85,1265.60 392.42,1248.90 487.98,1247.00 583.55,1263.40 679.12,1323.80" stroke="#3b0964" stroke-width="4.17" fill="none" stroke-linecap="square" stroke-linejoin="round"/>
<polyline points="201.28,1330.50 296.85,1275.30 392.42,1257.40 487.98,1258.20 583.55,1285.00 679.12,1358.10" stroke="#9b2964" stroke-width="4.17" fill="none" stroke-linecap="square" stroke-linejoin="round"/>
<polyline points="201.28,1339.00 296.85,1268.60 392.42,1256.40 487.98,1259.70 583.55,1297.00 679.12,1372.00" stroke="#e75e2e" stroke-width="4.17" fill="none" stroke-linecap="square" stroke-linejoin="round"/>
<polyline points="201.28,1332.80 296.85,1258.90 392.42,1236.30 487.98,1244.00 583.55,1309.70 679.12,1384.20" stroke="#f9c72f" stroke-width="4.17" fill="none" stroke-linecap="square" stroke-linejoin="round"/>
</g>
<rect x="163.30" y="1420.10" width="552.10" height="114.80" rx="7.2" ry="7.2" fill="#ffffff" fill-opacity="0.8" stroke="#cccccc" stroke-opacity="0.8" stroke-width="2.4"/>
<path d="M175.70 1447.70H249.70" stroke="#3b0964" stroke-width="4.17" fill="none"/>
<text x="277.07" y="1463.53" font-size="42.03" font-style="normal" textLength="8.21" lengthAdjust="spacingAndGlyphs">[</text>
<text x="290.34" y="1460.70" font-size="36.00" font-style="normal" textLength="53.57" lengthAdjust="spacingAndGlyphs">0.4,</text>
<text x="349.65" y="1460.70" font-size="36.00" font-style="normal" textLength="62.24" lengthAdjust="spacingAndGlyphs">0.55</text>
<text x="417.90" y="1460.99" font-size="38.37" font-style="normal" textLength="11.49" lengthAdjust="spacingAndGlyphs">)</text>
<path d="M175.70 1500.60H249.70" stroke="#9b2964" stroke-width="4.17" fill="none"/>
<text x="277.07" y="1515.53" font-size="42.03" font-style="normal" textLength="8.21" lengthAdjust="spacingAndGlyphs">[</text>
<text x="290.34" y="1512.80" font-size="36.00" font-style="normal" textLength="71.79" lengthAdjust="spacingAndGlyphs">0.55,</text>
<text x="367.23" y="1512.80" font-size="36.00" font-style="normal" textLength="45.08" lengthAdjust="spacingAndGlyphs">0.7</text>
<text x="417.90" y="1512.99" font-size="38.37" font-style="normal" textLength="11.49" lengthAdjust="spacingAndGlyphs">)</text>
<path d="M446.10 1447.70H520.10" stroke="#e75e2e" stroke-width="4.17" fill="none"/>
<text x="547.81" y="1463.53" font-size="42.03" font-style="normal" textLength="8.06" lengthAdjust="spacingAndGlyphs">[</text>
<text x="560.50" y="1460.70" font-size="36.00" font-style="normal" textLength="55.07" lengthAdjust="spacingAndGlyphs">0.7,</text>
<text x="620.46" y="1460.70" font-size="36.00" font-style="normal" textLength="61.82" lengthAdjust="spacingAndGlyphs">0.85</text>
<text x="688.75" y="1460.99" font-size="38.37" font-style="normal" textLength="10.97" lengthAdjust="spacingAndGlyphs">)</text>
<path d="M446.10 1500.60H520.10" stroke="#f9c72f" stroke-width="4.17" fill="none"/>
<text x="547.81" y="1515.53" font-size="42.03" font-style="normal" textLength="8.06" lengthAdjust="spacingAndGlyphs">[</text>
<text x="560.54" y="1512.80" font-size="36.00" font-style="normal" textLength="71.58" lengthAdjust="spacingAndGlyphs">0.85,</text>
<text x="637.67" y="1512.80" font-size="36.00" font-style="normal" textLength="45.00" lengthAdjust="spacingAndGlyphs">1.0</text>
<text x="687.99" y="1515.53" font-size="42.03" font-style="normal" textLength="7.47" lengthAdjust="spacingAndGlyphs">]</text>
<path d="M142.30 1462.70H153.10M142.30 1353.00H153.10M142.30 1243.30H153.10" stroke="#000" stroke-width="2.2" fill="none"/>
<path d="M146.90 1539.38H153.10M146.90 1520.06H153.10M146.90 1506.35H153.10M146.90 1495.72H153.10M146.90 1487.04H153.10M146.90 1479.69H153.10M146.90 1473.33H153.10M146.90 1467.72H153.10M146.90 1429.68H153.10M146.90 1410.36H153.10M146.90 1396.65H153.10M146.90 1386.02H153.10M146.90 1377.34H153.10M146.90 1369.99H153.10M146.90 1363.63H153.10M146.90 1358.02H153.10M146.90 1319.98H153.10M146.90 1300.66H153.10M146.90 1286.95H153.10M146.90 1276.32H153.10M146.90 1267.64H153.10M146.90 1260.29H153.10M146.90 1253.93H153.10M146.90 1248.32H153.10M146.90 1210.28H153.10" stroke="#000" stroke-width="1.7" fill="none"/>
<path d="M153.10 1552.30V1563.10M248.67 1552.30V1563.10M344.23 1552.30V1563.10M439.80 1552.30V1563.10M535.37 1552.30V1563.10M630.93 1552.30V1563.10M726.50 1552.30V1563.10" stroke="#000" stroke-width="2.2" fill="none"/>
<rect x="153.10" y="1199.90" width="573.40" height="352.40" fill="none" stroke="#000" stroke-width="2.2"/>
<clipPath id="cp11b"><rect x="822.50" y="1199.90" width="573.40" height="352.40"/></clipPath>
<g clip-path="url(#cp11b)">
<polyline points="870.68,1378.00 966.25,1312.20 1061.82,1274.30 1157.38,1255.90 1252.95,1242.50 1348.52,1251.50" stroke="#3b0964" stroke-width="4.17" fill="none" stroke-linecap="square" stroke-linejoin="round"/>
<polyline points="870.68,1394.40 966.25,1326.80 1061.82,1286.20 1157.38,1265.60 1252.95,1253.00 1348.52,1265.60" stroke="#9b2964" stroke-width="4.17" fill="none" stroke-linecap="square" stroke-linejoin="round"/>
<polyline points="870.68,1385.70 966.25,1335.00 1061.82,1288.80 1157.38,1264.20 1252.95,1253.00 1348.52,1270.90" stroke="#e75e2e" stroke-width="4.17" fill="none" stroke-linecap="square" stroke-linejoin="round"/>
<polyline points="870.68,1416.80 966.25,1331.30 1061.82,1281.30 1157.38,1253.70 1252.95,1235.80 1348.52,1258.60" stroke="#f9c72f" stroke-width="4.17" fill="none" stroke-linecap="square" stroke-linejoin="round"/>
</g>
<rect x="832.70" y="1420.10" width="552.10" height="114.80" rx="7.2" ry="7.2" fill="#ffffff" fill-opacity="0.8" stroke="#cccccc" stroke-opacity="0.8" stroke-width="2.4"/>
<path d="M845.10 1447.70H919.10" stroke="#3b0964" stroke-width="4.17" fill="none"/>
<text x="946.47" y="1463.53" font-size="42.03" font-style="normal" textLength="8.21" lengthAdjust="spacingAndGlyphs">[</text>
<text x="959.74" y="1460.70" font-size="36.00" font-style="normal" textLength="53.57" lengthAdjust="spacingAndGlyphs">0.4,</text>
<text x="1019.05" y="1460.70" font-size="36.00" font-style="normal" textLength="62.24" lengthAdjust="spacingAndGlyphs">0.55</text>
<text x="1087.30" y="1460.99" font-size="38.37" font-style="normal" textLength="11.49" lengthAdjust="spacingAndGlyphs">)</text>
<path d="M845.10 1500.60H919.10" stroke="#9b2964" stroke-width="4.17" fill="none"/>
<text x="946.47" y="1515.53" font-size="42.03" font-style="normal" textLength="8.21" lengthAdjust="spacingAndGlyphs">[</text>
<text x="959.74" y="1512.80" font-size="36.00" font-style="normal" textLength="71.79" lengthAdjust="spacingAndGlyphs">0.55,</text>
<text x="1036.63" y="1512.80" font-size="36.00" font-style="normal" textLength="45.08" lengthAdjust="spacingAndGlyphs">0.7</text>
<text x="1087.30" y="1512.99" font-size="38.37" font-style="normal" textLength="11.49" lengthAdjust="spacingAndGlyphs">)</text>
<path d="M1115.50 1447.70H1189.50" stroke="#e75e2e" stroke-width="4.17" fill="none"/>
<text x="1217.21" y="1463.53" font-size="42.03" font-style="normal" textLength="8.06" lengthAdjust="spacingAndGlyphs">[</text>
<text x="1229.90" y="1460.70" font-size="36.00" font-style="normal" textLength="55.07" lengthAdjust="spacingAndGlyphs">0.7,</text>
<text x="1289.86" y="1460.70" font-size="36.00" font-style="normal" textLength="61.82" lengthAdjust="spacingAndGlyphs">0.85</text>
<text x="1358.15" y="1460.99" font-size="38.37" font-style="normal" textLength="10.97" lengthAdjust="spacingAndGlyphs">)</text>
<path d="M1115.50 1500.60H1189.50" stroke="#f9c72f" stroke-width="4.17" fill="none"/>
<text x="1217.21" y="1515.53" font-size="42.03" font-style="normal" textLength="8.06" lengthAdjust="spacingAndGlyphs">[</text>
<text x="1229.94" y="1512.80" font-size="36.00" font-style="normal" textLength="71.58" lengthAdjust="spacingAndGlyphs">0.85,</text>
<text x="1307.07" y="1512.80" font-size="36.00" font-style="normal" textLength="45.00" lengthAdjust="spacingAndGlyphs">1.0</text>
<text x="1357.39" y="1515.53" font-size="42.03" font-style="normal" textLength="7.47" lengthAdjust="spacingAndGlyphs">]</text>
<path d="M811.70 1462.70H822.50M811.70 1353.00H822.50M811.70 1243.30H822.50" stroke="#000" stroke-width="2.2" fill="none"/>
<path d="M816.30 1539.38H822.50M816.30 1520.06H822.50M816.30 1506.35H822.50M816.30 1495.72H822.50M816.30 1487.04H822.50M816.30 1479.69H822.50M816.30 1473.33H822.50M816.30 1467.72H822.50M816.30 1429.68H822.50M816.30 1410.36H822.50M816.30 1396.65H822.50M816.30 1386.02H822.50M816.30 1377.34H822.50M816.30 1369.99H822.50M816.30 1363.63H822.50M816.30 1358.02H822.50M816.30 1319.98H822.50M816.30 1300.66H822.50M816.30 1286.95H822.50M816.30 1276.32H822.50M816.30 1267.64H822.50M816.30 1260.29H822.50M816.30 1253.93H822.50M816.30 1248.32H822.50M816.30 1210.28H822.50" stroke="#000" stroke-width="1.7" fill="none"/>
<path d="M822.50 1552.30V1563.10M918.07 1552.30V1563.10M1013.63 1552.30V1563.10M1109.20 1552.30V1563.10M1204.77 1552.30V1563.10M1300.33 1552.30V1563.10M1395.90 1552.30V1563.10" stroke="#000" stroke-width="2.2" fill="none"/>
<rect x="822.50" y="1199.90" width="573.40" height="352.40" fill="none" stroke="#000" stroke-width="2.2"/>
<clipPath id="cp12b"><rect x="1492.30" y="1199.90" width="573.40" height="352.40"/></clipPath>
<g clip-path="url(#cp12b)">
<polyline points="1540.48,1268.60 1636.05,1279.10 1731.62,1268.60 1827.18,1260.70 1922.75,1281.80 2018.32,1268.60" stroke="#3b0964" stroke-width="4.17" fill="none" stroke-linecap="square" stroke-linejoin="round"/>
<polyline points="1540.48,1276.80 1636.05,1297.00 1731.62,1277.90 1827.18,1269.40 1922.75,1293.20 2018.32,1281.30" stroke="#9b2964" stroke-width="4.17" fill="none" stroke-linecap="square" stroke-linejoin="round"/>
<polyline points="1540.48,1279.10 1636.05,1301.10 1731.62,1275.30 1827.18,1278.30 1922.75,1298.50 2018.32,1278.80" stroke="#e75e2e" stroke-width="4.17" fill="none" stroke-linecap="square" stroke-linejoin="round"/>
<polyline points="1540.48,1271.30 1636.05,1290.30 1731.62,1258.60 1827.18,1273.10 1922.75,1296.70 2018.32,1264.40" stroke="#f9c72f" stroke-width="4.17" fill="none" stroke-linecap="square" stroke-linejoin="round"/>
</g>
<rect x="1502.50" y="1420.10" width="552.10" height="114.80" rx="7.2" ry="7.2" fill="#ffffff" fill-opacity="0.8" stroke="#cccccc" stroke-opacity="0.8" stroke-width="2.4"/>
<path d="M1514.90 1447.70H1588.90" stroke="#3b0964" stroke-width="4.17" fill="none"/>
<text x="1616.27" y="1463.53" font-size="42.03" font-style="normal" textLength="8.21" lengthAdjust="spacingAndGlyphs">[</text>
<text x="1629.54" y="1460.70" font-size="36.00" font-style="normal" textLength="53.57" lengthAdjust="spacingAndGlyphs">0.4,</text>
<text x="1688.85" y="1460.70" font-size="36.00" font-style="normal" textLength="62.24" lengthAdjust="spacingAndGlyphs">0.55</text>
<text x="1757.10" y="1460.99" font-size="38.37" font-style="normal" textLength="11.49" lengthAdjust="spacingAndGlyphs">)</text>
<path d="M1514.90 1500.60H1588.90" stroke="#9b2964" stroke-width="4.17" fill="none"/>
<text x="1616.27" y="1515.53" font-size="42.03" font-style="normal" textLength="8.21" lengthAdjust="spacingAndGlyphs">[</text>
<text x="1629.54" y="1512.80" font-size="36.00" font-style="normal" textLength="71.79" lengthAdjust="spacingAndGlyphs">0.55,</text>
<text x="1706.43" y="1512.80" font-size="36.00" font-style="normal" textLength="45.08" lengthAdjust="spacingAndGlyphs">0.7</text>
<text x="1757.10" y="1512.99" font-size="38.37" font-style="normal" textLength="11.49" lengthAdjust="spacingAndGlyphs">)</text>
<path d="M1785.30 1447.70H1859.30" stroke="#e75e2e" stroke-width="4.17" fill="none"/>
<text x="1887.01" y="1463.53" font-size="42.03" font-style="normal" textLength="8.06" lengthAdjust="spacingAndGlyphs">[</text>
<text x="1899.70" y="1460.70" font-size="36.00" font-style="normal" textLength="55.07" lengthAdjust="spacingAndGlyphs">0.7,</text>
<text x="1959.66" y="1460.70" font-size="36.00" font-style="normal" textLength="61.82" lengthAdjust="spacingAndGlyphs">0.85</text>
<text x="2027.95" y="1460.99" font-size="38.37" font-style="normal" textLength="10.97" lengthAdjust="spacingAndGlyphs">)</text>
<path d="M1785.30 1500.60H1859.30" stroke="#f9c72f" stroke-width="4.17" fill="none"/>
<text x="1887.01" y="1515.53" font-size="42.03" font-style="normal" textLength="8.06" lengthAdjust="spacingAndGlyphs">[</text>
<text x="1899.74" y="1512.80" font-size="36.00" font-style="normal" textLength="71.58" lengthAdjust="spacingAndGlyphs">0.85,</text>
<text x="1976.87" y="1512.80" font-size="36.00" font-style="normal" textLength="45.00" lengthAdjust="spacingAndGlyphs">1.0</text>
<text x="2027.19" y="1515.53" font-size="42.03" font-style="normal" textLength="7.47" lengthAdjust="spacingAndGlyphs">]</text>
<path d="M1481.50 1462.70H1492.30M1481.50 1353.00H1492.30M1481.50 1243.30H1492.30" stroke="#000" stroke-width="2.2" fill="none"/>
<path d="M1486.10 1539.38H1492.30M1486.10 1520.06H1492.30M1486.10 1506.35H1492.30M1486.10 1495.72H1492.30M1486.10 1487.04H1492.30M1486.10 1479.69H1492.30M1486.10 1473.33H1492.30M1486.10 1467.72H1492.30M1486.10 1429.68H1492.30M1486.10 1410.36H1492.30M1486.10 1396.65H1492.30M1486.10 1386.02H1492.30M1486.10 1377.34H1492.30M1486.10 1369.99H1492.30M1486.10 1363.63H1492.30M1486.10 1358.02H1492.30M1486.10 1319.98H1492.30M1486.10 1300.66H1492.30M1486.10 1286.95H1492.30M1486.10 1276.32H1492.30M1486.10 1267.64H1492.30M1486.10 1260.29H1492.30M1486.10 1253.93H1492.30M1486.10 1248.32H1492.30M1486.10 1210.28H1492.30" stroke="#000" stroke-width="1.7" fill="none"/>
<path d="M1492.30 1552.30V1563.10M1587.87 1552.30V1563.10M1683.43 1552.30V1563.10M1779.00 1552.30V1563.10M1874.57 1552.30V1563.10M1970.13 1552.30V1563.10M2065.70 1552.30V1563.10" stroke="#000" stroke-width="2.2" fill="none"/>
<rect x="1492.30" y="1199.90" width="573.40" height="352.40" fill="none" stroke="#000" stroke-width="2.2"/>
<text x="153.10" y="756.10" font-size="41.80" font-style="normal" text-anchor="middle">0.00</text>
<text x="248.67" y="756.10" font-size="41.80" font-style="normal" text-anchor="middle">0.04</text>
<text x="344.23" y="756.10" font-size="41.80" font-style="normal" text-anchor="middle">0.08</text>
<text x="439.80" y="756.10" font-size="41.80" font-style="normal" text-anchor="middle">0.12</text>
<text x="535.37" y="756.10" font-size="41.80" font-style="normal" text-anchor="middle">0.16</text>
<text x="630.93" y="756.10" font-size="41.80" font-style="normal" text-anchor="middle">0.20</text>
<text x="726.50" y="756.10" font-size="41.80" font-style="normal" text-anchor="middle">0.24</text>
<text x="822.50" y="756.10" font-size="41.80" font-style="normal" text-anchor="middle">1.0</text>
<text x="918.07" y="756.10" font-size="41.80" font-style="normal" text-anchor="middle">2.3</text>
<text x="1013.63" y="756.10" font-size="41.80" font-style="normal" text-anchor="middle">3.6</text>
<text x="1109.20" y="756.10" font-size="41.80" font-style="normal" text-anchor="middle">4.9</text>
<text x="1204.77" y="756.10" font-size="41.80" font-style="normal" text-anchor="middle">6.2</text>
<text x="1300.33" y="756.10" font-size="41.80" font-style="normal" text-anchor="middle">7.5</text>
<text x="1395.90" y="756.10" font-size="41.80" font-style="normal" text-anchor="middle">8.8</text>
<text x="1492.30" y="756.10" font-size="41.80" font-style="normal" text-anchor="middle">14.4</text>
<text x="1587.87" y="756.10" font-size="41.80" font-style="normal" text-anchor="middle">15.0</text>
<text x="1683.43" y="756.10" font-size="41.80" font-style="normal" text-anchor="middle">15.6</text>
<text x="1779.00" y="756.10" font-size="41.80" font-style="normal" text-anchor="middle">16.2</text>
<text x="1874.57" y="756.10" font-size="41.80" font-style="normal" text-anchor="middle">16.8</text>
<text x="1970.13" y="756.10" font-size="41.80" font-style="normal" text-anchor="middle">17.4</text>
<text x="2065.70" y="756.10" font-size="41.80" font-style="normal" text-anchor="middle">18.0</text>
<text x="153.10" y="1602.40" font-size="41.80" font-style="normal" text-anchor="middle">0.22</text>
<text x="248.67" y="1602.40" font-size="41.80" font-style="normal" text-anchor="middle">0.38</text>
<text x="344.23" y="1602.40" font-size="41.80" font-style="normal" text-anchor="middle">0.54</text>
<text x="439.80" y="1602.40" font-size="41.80" font-style="normal" text-anchor="middle">0.70</text>
<text x="535.37" y="1602.40" font-size="41.80" font-style="normal" text-anchor="middle">0.86</text>
<text x="630.93" y="1602.40" font-size="41.80" font-style="normal" text-anchor="middle">1.02</text>
<text x="726.50" y="1602.40" font-size="41.80" font-style="normal" text-anchor="middle">1.18</text>
<text x="822.50" y="1602.40" font-size="41.80" font-style="normal" text-anchor="middle">0.4</text>
<text x="918.07" y="1602.40" font-size="41.80" font-style="normal" text-anchor="middle">0.5</text>
<text x="1013.63" y="1602.40" font-size="41.80" font-style="normal" text-anchor="middle">0.6</text>
<text x="1109.20" y="1602.40" font-size="41.80" font-style="normal" text-anchor="middle">0.7</text>
<text x="1204.77" y="1602.40" font-size="41.80" font-style="normal" text-anchor="middle">0.8</text>
<text x="1300.33" y="1602.40" font-size="41.80" font-style="normal" text-anchor="middle">0.9</text>
<text x="1395.90" y="1602.40" font-size="41.80" font-style="normal" text-anchor="middle">1.0</text>
<text x="1457.38" y="1605.58" font-size="41.80" font-style="normal" textLength="30.19" lengthAdjust="spacingAndGlyphs" class="ns">−</text>
<text x="1488.72" y="1602.36" font-size="41.80" font-style="normal" textLength="39.89" lengthAdjust="spacingAndGlyphs">90</text>
<text x="1552.94" y="1605.58" font-size="41.80" font-style="normal" textLength="30.19" lengthAdjust="spacingAndGlyphs" class="ns">−</text>
<text x="1583.87" y="1602.36" font-size="41.80" font-style="normal" textLength="40.33" lengthAdjust="spacingAndGlyphs">60</text>
<text x="1648.51" y="1605.58" font-size="41.80" font-style="normal" textLength="30.19" lengthAdjust="spacingAndGlyphs" class="ns">−</text>
<text x="1679.23" y="1602.36" font-size="41.80" font-style="normal" textLength="40.55" lengthAdjust="spacingAndGlyphs">30</text>
<text x="1779.00" y="1602.40" font-size="41.80" font-style="normal" text-anchor="middle">0</text>
<text x="1874.57" y="1602.40" font-size="41.80" font-style="normal" text-anchor="middle">30</text>
<text x="1970.13" y="1602.40" font-size="41.80" font-style="normal" text-anchor="middle">60</text>
<text x="2065.70" y="1602.40" font-size="41.80" font-style="normal" text-anchor="middle">90</text>
<text x="131.50" y="50.90" font-size="41.80" font-style="normal" text-anchor="end">0.2</text>
<text x="131.50" y="121.40" font-size="41.80" font-style="normal" text-anchor="end">0.1</text>
<text x="131.50" y="191.90" font-size="41.80" font-style="normal" text-anchor="end">0.0</text>
<text x="49.45" y="266.08" font-size="41.80" font-style="normal" textLength="30.55" lengthAdjust="spacingAndGlyphs" class="ns">−</text>
<text x="131.50" y="262.40" font-size="41.80" font-style="normal" text-anchor="end">0.1</text>
<text x="49.45" y="336.58" font-size="41.80" font-style="normal" textLength="30.55" lengthAdjust="spacingAndGlyphs" class="ns">−</text>
<text x="131.50" y="332.90" font-size="41.80" font-style="normal" text-anchor="end">0.2</text>
<text x="77.23" y="411.86" font-size="41.80" font-style="normal" textLength="39.89" lengthAdjust="spacingAndGlyphs">10</text>
<text x="116.59" y="397.07" font-size="29.91" font-style="normal" textLength="14.98" lengthAdjust="spacingAndGlyphs" class="ns">3</text>
<text x="77.23" y="521.56" font-size="41.80" font-style="normal" textLength="39.89" lengthAdjust="spacingAndGlyphs">10</text>
<text x="116.67" y="507.07" font-size="30.36" font-style="normal" textLength="15.42" lengthAdjust="spacingAndGlyphs" class="ns">2</text>
<text x="77.23" y="631.26" font-size="41.80" font-style="normal" textLength="39.89" lengthAdjust="spacingAndGlyphs">10</text>
<text x="114.94" y="616.77" font-size="30.45" font-style="normal" textLength="17.56" lengthAdjust="spacingAndGlyphs" class="ns">1</text>
<text x="131.50" y="897.20" font-size="41.80" font-style="normal" text-anchor="end">0.2</text>
<text x="131.50" y="967.70" font-size="41.80" font-style="normal" text-anchor="end">0.1</text>
<text x="131.50" y="1038.20" font-size="41.80" font-style="normal" text-anchor="end">0.0</text>
<text x="49.45" y="1112.38" font-size="41.80" font-style="normal" textLength="30.55" lengthAdjust="spacingAndGlyphs" class="ns">−</text>
<text x="131.50" y="1108.70" font-size="41.80" font-style="normal" text-anchor="end">0.1</text>
<text x="49.45" y="1182.88" font-size="41.80" font-style="normal" textLength="30.55" lengthAdjust="spacingAndGlyphs" class="ns">−</text>
<text x="131.50" y="1179.20" font-size="41.80" font-style="normal" text-anchor="end">0.2</text>
<text x="77.23" y="1258.16" font-size="41.80" font-style="normal" textLength="39.89" lengthAdjust="spacingAndGlyphs">10</text>
<text x="116.59" y="1243.37" font-size="29.91" font-style="normal" textLength="14.98" lengthAdjust="spacingAndGlyphs" class="ns">3</text>
<text x="77.23" y="1367.86" font-size="41.80" font-style="normal" textLength="39.89" lengthAdjust="spacingAndGlyphs">10</text>
<text x="116.67" y="1353.37" font-size="30.36" font-style="normal" textLength="15.42" lengthAdjust="spacingAndGlyphs" class="ns">2</text>
<text x="77.23" y="1477.56" font-size="41.80" font-style="normal" textLength="39.89" lengthAdjust="spacingAndGlyphs">10</text>
<text x="114.94" y="1463.07" font-size="30.45" font-style="normal" textLength="17.56" lengthAdjust="spacingAndGlyphs" class="ns">1</text>
<text x="430.40" y="813.85" font-size="54.25" font-style="italic" textLength="22.77" lengthAdjust="spacingAndGlyphs">z</text>
<text x="990.84" y="816.64" font-size="56.69" font-style="italic" textLength="23.92" lengthAdjust="spacingAndGlyphs">r</text>
<text x="1014.45" y="824.62" font-size="34.52" font-style="normal" textLength="38.72" lengthAdjust="spacingAndGlyphs">50</text>
<text x="1065.00" y="827.44" font-size="78.18" font-style="normal" textLength="20.99" lengthAdjust="spacingAndGlyphs">/</text>
<text x="1098.18" y="816.09" font-size="55.51" font-style="normal" textLength="130.06" lengthAdjust="spacingAndGlyphs">arcsec</text>
<text x="1747.39" y="813.15" font-size="50.11" font-style="italic" textLength="46.24" lengthAdjust="spacingAndGlyphs">m</text>
<text x="1790.96" y="819.96" font-size="38.22" font-style="italic" textLength="19.84" lengthAdjust="spacingAndGlyphs">r</text>
<text x="340.97" y="1652.95" font-size="48.83" font-style="italic" textLength="46.69" lengthAdjust="spacingAndGlyphs">m</text>
<text x="385.50" y="1660.93" font-size="42.40" font-style="italic" textLength="18.58" lengthAdjust="spacingAndGlyphs">g</text>
<text x="418.22" y="1660.36" font-size="60.00" font-style="normal" textLength="43.48" lengthAdjust="spacingAndGlyphs" class="ns">−</text>
<text x="472.66" y="1652.95" font-size="48.83" font-style="italic" textLength="47.03" lengthAdjust="spacingAndGlyphs">m</text>
<text x="516.99" y="1660.96" font-size="38.22" font-style="italic" textLength="19.51" lengthAdjust="spacingAndGlyphs">r</text>
<text x="1071.36" y="1662.41" font-size="53.98" font-style="italic" textLength="26.21" lengthAdjust="spacingAndGlyphs">b</text>
<text x="1096.00" y="1674.13" font-size="78.77" font-style="normal" textLength="20.99" lengthAdjust="spacingAndGlyphs">/</text>
<text x="1118.22" y="1662.43" font-size="51.98" font-style="italic" textLength="30.76" lengthAdjust="spacingAndGlyphs">a</text>
<text x="1764.14" y="1658.67" font-size="52.92" font-style="italic" textLength="31.95" lengthAdjust="spacingAndGlyphs">ϕ</text>
<g transform="translate(0.00,349.00) rotate(-90)"><text x="3.41" y="22.58" font-size="46.35" font-style="italic" textLength="28.92" lengthAdjust="spacingAndGlyphs">p</text></g>
<g transform="translate(0.00,349.00) rotate(-90)"><text x="33.58" y="29.67" font-size="35.17" font-style="normal" textLength="108.87" lengthAdjust="spacingAndGlyphs">m,pred</text></g>
<g transform="translate(0.00,349.00) rotate(-90)"><text class="ns" x="156.58" y="28.24" font-size="56.00" font-style="normal" textLength="37.07" lengthAdjust="spacingAndGlyphs">−</text></g>
<g transform="translate(0.00,349.00) rotate(-90)"><text x="207.77" y="22.58" font-size="46.35" font-style="italic" textLength="24.29" lengthAdjust="spacingAndGlyphs">p</text></g>
<g transform="translate(0.00,349.00) rotate(-90)"><text x="239.16" y="27.99" font-size="35.56" font-style="normal" textLength="103.08" lengthAdjust="spacingAndGlyphs">m,true</text></g>
<g transform="translate(0,547.80) rotate(-90)"><text x="0.47" y="55.45" font-size="54.20" font-style="italic" textLength="38.80" lengthAdjust="spacingAndGlyphs">N</text></g>
<g transform="translate(0.00,1195.30) rotate(-90)"><text x="3.41" y="22.58" font-size="46.35" font-style="italic" textLength="28.92" lengthAdjust="spacingAndGlyphs">p</text></g>
<g transform="translate(0.00,1195.30) rotate(-90)"><text x="33.58" y="29.67" font-size="35.17" font-style="normal" textLength="108.87" lengthAdjust="spacingAndGlyphs">m,pred</text></g>
<g transform="translate(0.00,1195.30) rotate(-90)"><text class="ns" x="156.58" y="28.24" font-size="56.00" font-style="normal" textLength="37.07" lengthAdjust="spacingAndGlyphs">−</text></g>
<g transform="translate(0.00,1195.30) rotate(-90)"><text x="207.77" y="22.58" font-size="46.35" font-style="italic" textLength="24.29" lengthAdjust="spacingAndGlyphs">p</text></g>
<g transform="translate(0.00,1195.30) rotate(-90)"><text x="239.16" y="27.99" font-size="35.56" font-style="normal" textLength="103.08" lengthAdjust="spacingAndGlyphs">m,true</text></g>
<g transform="translate(0,1394.10) rotate(-90)"><text x="0.47" y="55.45" font-size="54.20" font-style="italic" textLength="38.80" lengthAdjust="spacingAndGlyphs">N</text></g>
</g></svg></body></html>
